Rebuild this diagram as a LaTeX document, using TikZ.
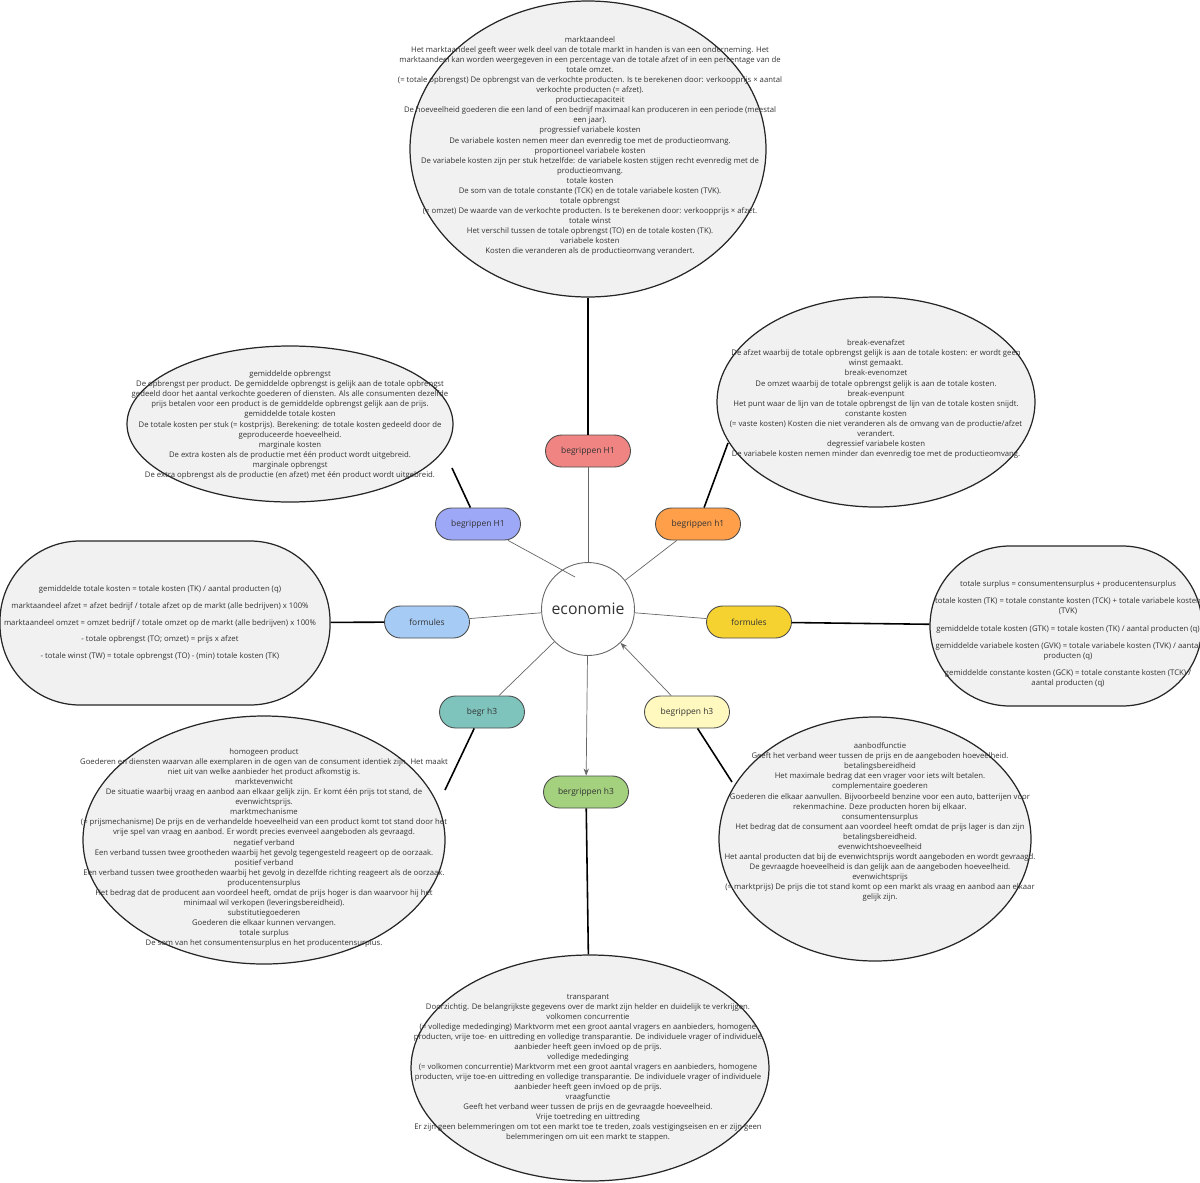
\documentclass[tikz,border=0pt]{standalone}
\usepackage{fontspec}
\setmainfont{Open Sans}
\usetikzlibrary{shapes.geometric,arrows.meta}
\definecolor{bub}{HTML}{F1F1F1}
\definecolor{cred}{HTML}{F08482}
\definecolor{cblue}{HTML}{9DA8F7}
\definecolor{corange}{HTML}{FF9F4A}
\definecolor{clblue}{HTML}{A6CBF5}
\definecolor{cyellow}{HTML}{F5D22F}
\definecolor{cteal}{HTML}{7EC4BD}
\definecolor{clyellow}{HTML}{FFF9BF}
\definecolor{cgreen}{HTML}{A3D17E}
\definecolor{txt}{HTML}{333333}
\tikzset{
  bubble/.style={ellipse,draw=black!85,fill=bub,line width=0.7pt,inner sep=0pt},
  stadium/.style={rectangle,draw=black!85,fill=bub,line width=0.7pt,inner sep=0pt,rounded corners=1.6cm},
  btext/.style={align=center,text=txt,font=\fontsize{4.4}{5.7}\selectfont,inner sep=0pt},
  pill/.style={rectangle,rounded corners=0.32cm,draw=black!70,line width=0.5pt,minimum width=1.7cm,minimum height=0.64cm,text=txt,font=\fontsize{4.8}{6}\selectfont},
  thin/.style={draw=black!60,line width=0.4pt},
  thick/.style={draw=black,line width=0.9pt}
}
\begin{document}
\begin{tikzpicture}[x=0.02cm,y=-0.02cm]
\useasboundingbox (0,0) rectangle (1200,1183);
% bubbles
\node[bubble,minimum width=356*0.02cm,minimum height=296*0.02cm] (btop) at (588,149) {};
\node[btext] at (590,146) {marktaandeel\\
Het marktaandeel geeft weer welk deel van de totale markt in handen is van een onderneming. Het\\
marktaandeel kan worden weergegeven in een percentage van de totale afzet of in een percentage van de\\
totale omzet.\\
(= totale opbrengst) De opbrengst van de verkochte producten. Is te berekenen door: verkoopprijs × aantal\\
verkochte producten (= afzet).\\
productiecapaciteit\\
De hoeveelheid goederen die een land of een bedrijf maximaal kan produceren in een periode (meestal\\
een jaar).\\
progressief variabele kosten\\
De variabele kosten nemen meer dan evenredig toe met de productieomvang.\\
proportioneel variabele kosten\\
De variabele kosten zijn per stuk hetzelfde: de variabele kosten stijgen recht evenredig met de\\
productieomvang.\\
totale kosten\\
De som van de totale constante (TCK) en de totale variabele kosten (TVK).\\
totale opbrengst\\
(= omzet) De waarde van de verkochte producten. Is te berekenen door: verkoopprijs × afzet.\\
totale winst\\
Het verschil tussen de totale opbrengst (TO) en de totale kosten (TK).\\
variabele kosten\\
Kosten die veranderen als de productieomvang verandert.};

\node[bubble,minimum width=326*0.02cm,minimum height=156*0.02cm] (btl) at (290,424) {};
\node[btext] at (290,425) {gemiddelde opbrengst\\
De opbrengst per product. De gemiddelde opbrengst is gelijk aan de totale opbrengst\\
gedeeld door het aantal verkochte goederen of diensten. Als alle consumenten dezelfde\\
prijs betalen voor een product is de gemiddelde opbrengst gelijk aan de prijs.\\
gemiddelde totale kosten\\
De totale kosten per stuk (= kostprijs). Berekening: de totale kosten gedeeld door de\\
geproduceerde hoeveelheid.\\
marginale kosten\\
De extra kosten als de productie met één product wordt uitgebreid.\\
marginale opbrengst\\
De extra opbrengst als de productie (en afzet) met één product wordt uitgebreid.};

\node[bubble,minimum width=318*0.02cm,minimum height=210*0.02cm] (btr) at (876,402) {};
\node[btext] at (876,399) {break-evenafzet\\
De afzet waarbij de totale opbrengst gelijk is aan de totale kosten: er wordt geen\\
winst gemaakt.\\
break-evenomzet\\
De omzet waarbij de totale opbrengst gelijk is aan de totale kosten.\\
break-evenpunt\\
Het punt waar de lijn van de totale opbrengst de lijn van de totale kosten snijdt.\\
constante kosten\\
(= vaste kosten) Kosten die niet veranderen als de omvang van de productie/afzet\\
verandert.\\
degressief variabele kosten\\
De variabele kosten nemen minder dan evenredig toe met de productieomvang.};

\node[stadium,minimum width=330*0.02cm,minimum height=164*0.02cm] (bl) at (165,623) {};
\node[btext,font=\fontsize{4.4}{9.6}\selectfont] at (160,623) {gemiddelde totale kosten = totale kosten (TK) / aantal producten (q)\\
marktaandeel afzet = afzet bedrijf / totale afzet op de markt (alle bedrijven) x 100\%\\
marktaandeel omzet = omzet bedrijf / totale omzet op de markt (alle bedrijven) x 100\%\\
- totale opbrengst (TO; omzet) = prijs x afzet\\
- totale winst (TW) = totale opbrengst (TO) - (min) totale kosten (TK)};

\node[stadium,minimum width=272*0.02cm,minimum height=160*0.02cm] (br) at (1066,626) {};
\node[btext,font=\fontsize{4.4}{5.7}\selectfont] at (1068,634) {totale surplus = consumentensurplus + producentensurplus\\[4pt]
totale kosten (TK) = totale constante kosten (TCK) + totale variabele kosten\\
(TVK)\\[4pt]
gemiddelde totale kosten (GTK) = totale kosten (TK) / aantal producten (q)\\[4pt]
gemiddelde variabele kosten (GVK) = totale variabele kosten (TVK) / aantal\\
producten (q)\\[4pt]
gemiddelde constante kosten (GCK) = totale constante kosten (TCK) /\\
aantal producten (q)};

\node[bubble,minimum width=362*0.02cm,minimum height=248*0.02cm] (bbl) at (264,840) {};
\node[btext] at (264,848) {homogeen product\\
Goederen en diensten waarvan alle exemplaren in de ogen van de consument identiek zijn. Het maakt\\
niet uit van welke aanbieder het product afkomstig is.\\
marktevenwicht\\
De situatie waarbij vraag en aanbod aan elkaar gelijk zijn. Er komt één prijs tot stand, de\\
evenwichtsprijs.\\
marktmechanisme\\
(= prijsmechanisme) De prijs en de verhandelde hoeveelheid van een product komt tot stand door het\\
vrije spel van vraag en aanbod. Er wordt precies evenveel aangeboden als gevraagd.\\
negatief verband\\
Een verband tussen twee grootheden waarbij het gevolg tegengesteld reageert op de oorzaak.\\
positief verband\\
Een verband tussen twee grootheden waarbij het gevolg in dezelfde richting reageert als de oorzaak.\\
producentensurplus\\
Het bedrag dat de producent aan voordeel heeft, omdat de prijs hoger is dan waarvoor hij het\\
minimaal wil verkopen (leveringsbereidheid).\\
substitutiegoederen\\
Goederen die elkaar kunnen vervangen.\\
totale surplus\\
De som van het consumentensurplus en het producentensurplus.};

\node[bubble,minimum width=312*0.02cm,minimum height=244*0.02cm] (bbr) at (875,839) {};
\node[btext] at (880,822) {aanbodfunctie\\
Geeft het verband weer tussen de prijs en de aangeboden hoeveelheid.\\
betalingsbereidheid\\
Het maximale bedrag dat een vrager voor iets wilt betalen.\\
complementaire goederen\\
Goederen die elkaar aanvullen. Bijvoorbeeld benzine voor een auto, batterijen voor\\
rekenmachine. Deze producten horen bij elkaar.\\
consumentensurplus\\
Het bedrag dat de consument aan voordeel heeft omdat de prijs lager is dan zijn\\
betalingsbereidheid.\\
evenwichtshoeveelheid\\
Het aantal producten dat bij de evenwichtsprijs wordt aangeboden en wordt gevraagd.\\
De gevraagde hoeveelheid is dan gelijk aan de aangeboden hoeveelheid.\\
evenwichtsprijs\\
(= marktprijs) De prijs die tot stand komt op een markt als vraag en aanbod aan elkaar\\
gelijk zijn.};

\node[bubble,minimum width=358*0.02cm,minimum height=226*0.02cm] (bbot) at (590,1068) {};
\node[btext] at (588,1068) {transparant\\
Doorzichtig. De belangrijkste gegevens over de markt zijn helder en duidelijk te verkrijgen.\\
volkomen concurrentie\\
(= volledige mededinging) Marktvorm met een groot aantal vragers en aanbieders, homogene\\
producten, vrije toe- en uittreding en volledige transparantie. De individuele vrager of individuele\\
aanbieder heeft geen invloed op de prijs.\\
volledige mededinging\\
(= volkomen concurrentie) Marktvorm met een groot aantal vragers en aanbieders, homogene\\
producten, vrije toe-en uittreding en volledige transparantie. De individuele vrager of individuele\\
aanbieder heeft geen invloed op de prijs.\\
vraagfunctie\\
Geeft het verband weer tussen de prijs en de gevraagde hoeveelheid.\\
Vrije toetreding en uittreding\\
Er zijn geen belemmeringen om tot een markt toe te treden, zoals vestigingseisen en er zijn geen\\
belemmeringen om uit een markt te stappen.};

% center
\node[circle,draw=black!60,line width=0.5pt,fill=white,minimum size=1.86cm,text=txt,font=\fontsize{9}{11}\selectfont] (eco) at (588,609) {economie};

% pills
\node[pill,fill=cred] (p1) at (588,451) {begrippen H1};
\node[pill,fill=cblue] (p2) at (478,524) {begrippen H1};
\node[pill,fill=corange] (p3) at (698,524) {begrippen h1};
\node[pill,fill=clblue] (p4) at (427,622) {formules};
\node[pill,fill=cyellow] (p5) at (749,622) {formules};
\node[pill,fill=cteal] (p6) at (482,712) {begr h3};
\node[pill,fill=clyellow] (p7) at (687,712) {begrippen h3};
\node[pill,fill=cgreen] (p8) at (586,792) {bergrippen h3};

\coordinate (e2) at (575,577);
\coordinate (t2) at (452,468);
\coordinate (t3) at (728,443);
\coordinate (t6) at (445,790);
\coordinate (t7) at (732,782);

% thin connectors
\draw[thin] (eco) -- (p1);
\draw[thin] (p2) -- (e2);
\draw[thin] (eco) -- (p3);
\draw[thin] (eco) -- (p4);
\draw[thin] (eco) -- (p5);
\draw[thin] (eco) -- (p6);
\draw[thin,-{Stealth[length=4pt,width=3pt]}] (p7) -- (eco);
\draw[thin,-{Stealth[length=4pt,width=3pt]}] (eco) -- (p8);

% thick connectors
\draw[thick] (p1) -- (btop);
\draw[thick] (p2) -- (t2);
\draw[thick] (p3) -- (t3);
\draw[thick] (p4) -- (bl);
\draw[thick] (p5) -- (br);
\draw[thick] (p6) -- (t6);
\draw[thick] (p7) -- (t7);
\draw[thick] (p8) -- (bbot);
\end{tikzpicture}
\end{document}
